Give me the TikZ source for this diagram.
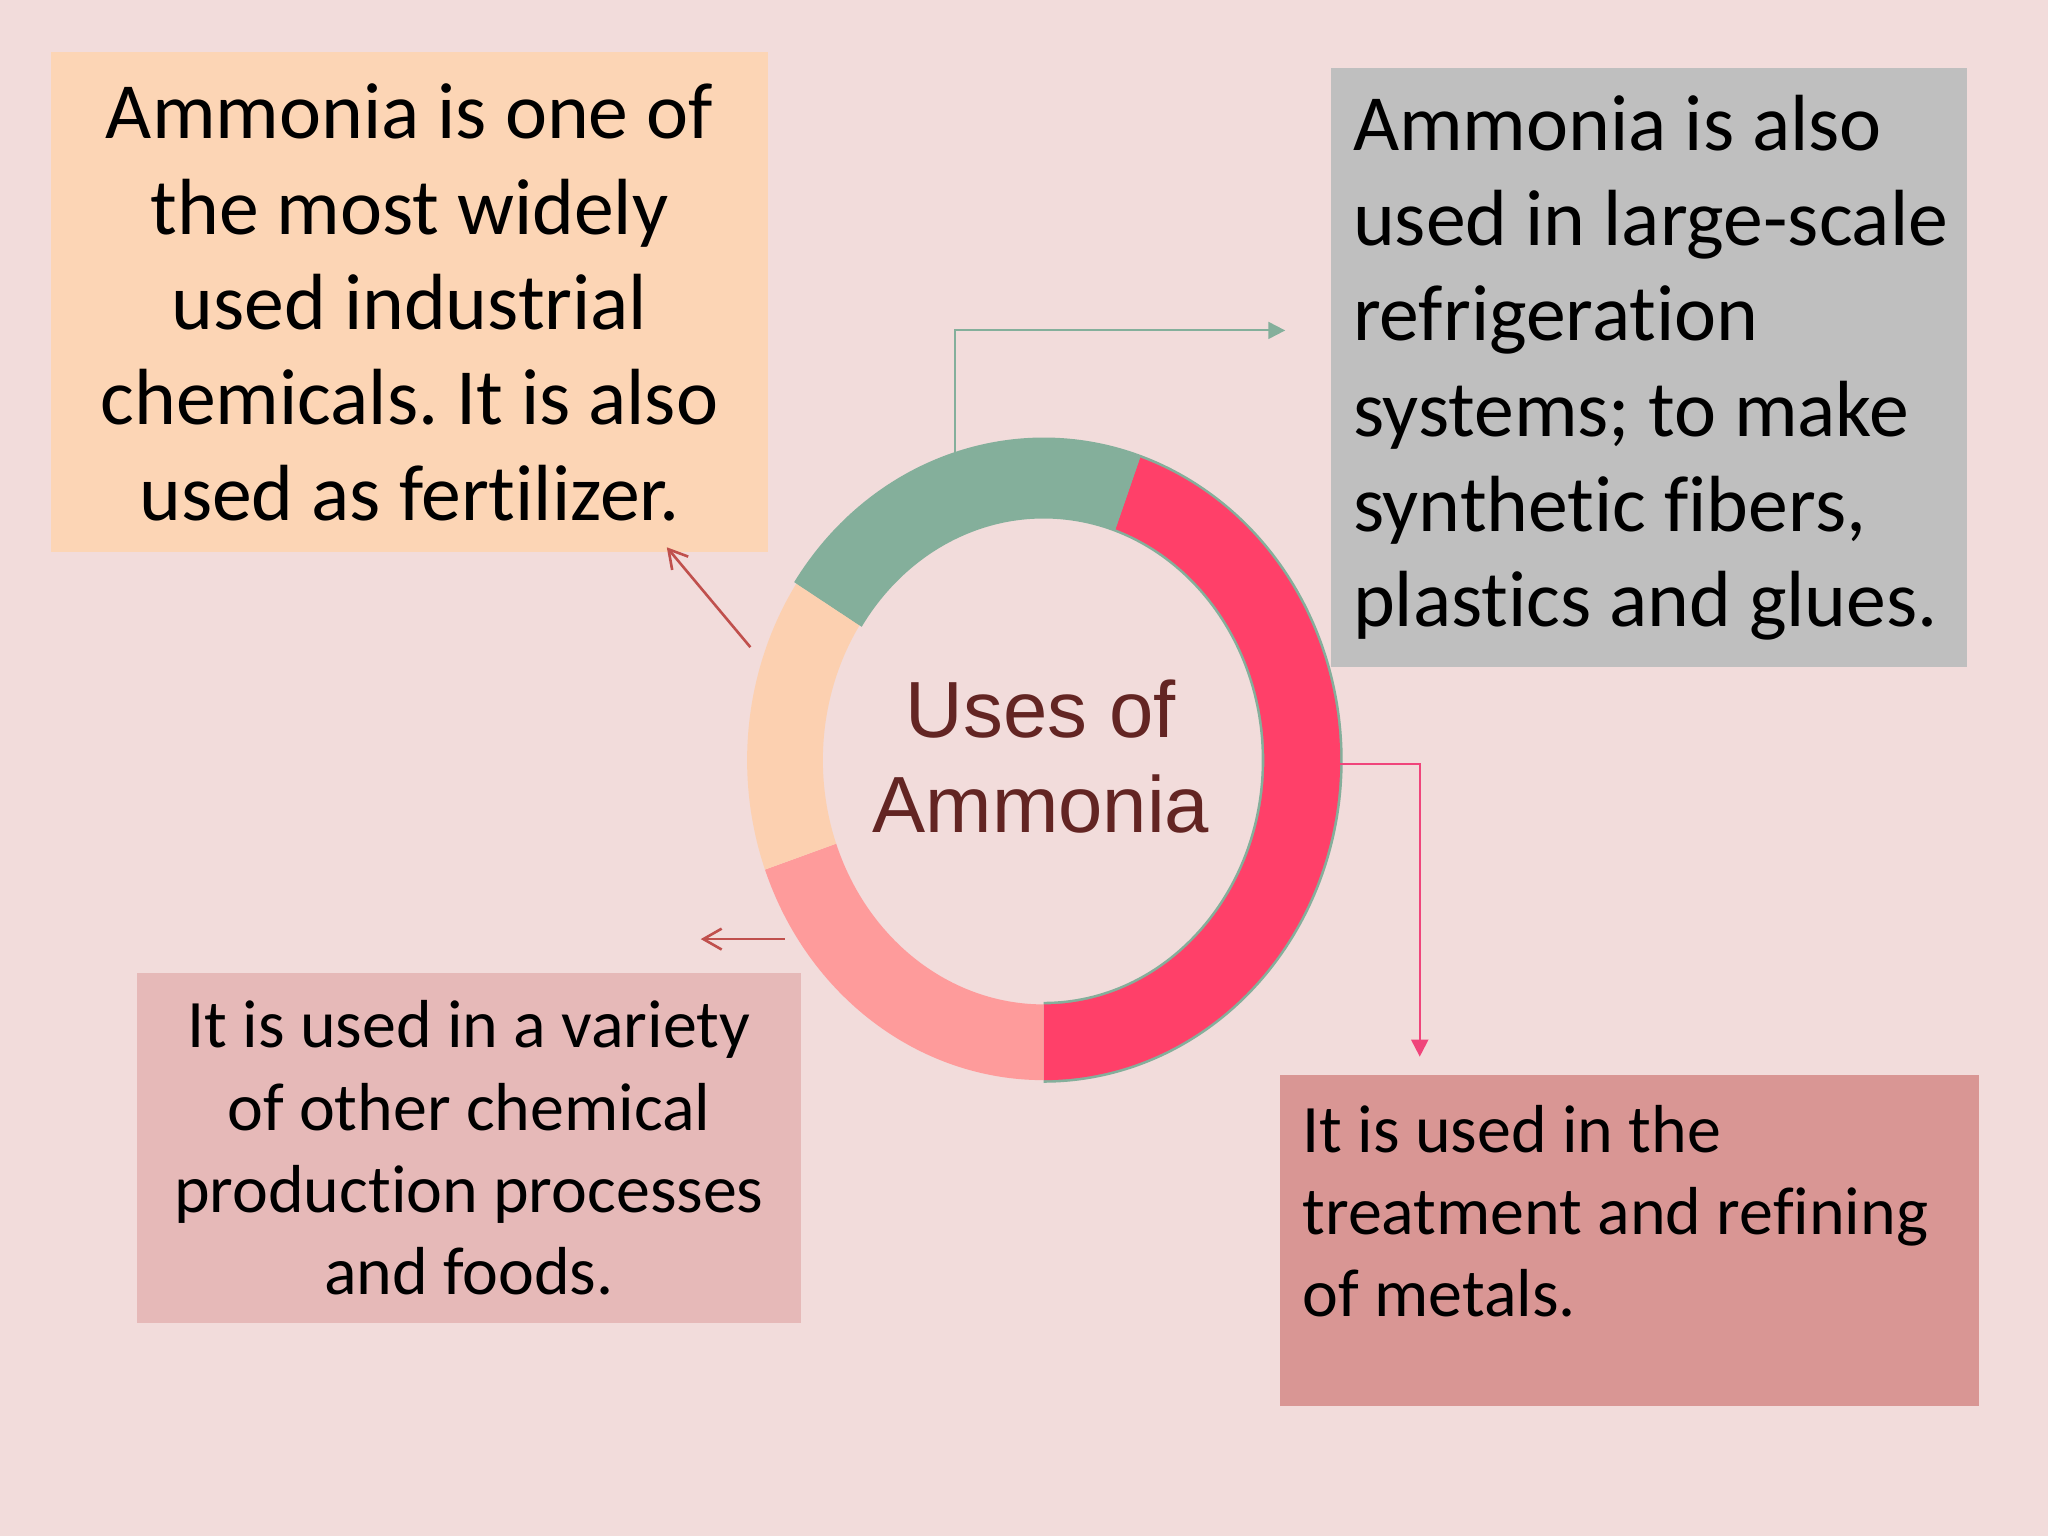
\documentclass[tikz,border=0pt]{standalone}
\usepackage{fontspec}
\setmainfont{Carlito}[Ligatures=NoCommon]
\newfontfamily\arialfont{Liberation Sans}
\usetikzlibrary{arrows.meta,calc}

\definecolor{bgpink}{HTML}{F2DCDB}
\definecolor{boxpeach}{HTML}{FCD5B5}
\definecolor{boxgrey}{HTML}{BFBFBF}
\definecolor{boxrose}{HTML}{E6B9B8}
\definecolor{boxred}{HTML}{D99694}
\definecolor{ringgreen}{HTML}{84AF9B}
\definecolor{ringred}{HTML}{FF4069}
\definecolor{ringsalmon}{HTML}{FE9B9B}
\definecolor{ringpeach}{HTML}{FCD0B0}
\definecolor{titlered}{HTML}{632523}
\definecolor{arrowpink}{HTML}{F0457B}
\definecolor{arrowred}{HTML}{C0504D}

\begin{document}
\begin{tikzpicture}[x=1pt,y=1pt,
	infobox/.style={fill=#1,inner sep=0pt,align=center},
	bigtext/.style={font=\fontsize{61}{73}\selectfont\frenchspacing},
	smalltext/.style={font=\fontsize{52}{63}\selectfont\frenchspacing},
	pointer/.style={draw=arrowred,line width=2pt,-{Straight Barb[length=14pt,width=16pt]}},
	elbow/.style={line width=1.6pt,-{Triangle[length=13pt,width=13pt]}}]
	
	\useasboundingbox (0,0) rectangle (1568,1176);
	\fill[bgpink] (0,0) rectangle (1568,1176);
	
	\node[infobox=boxpeach,bigtext,minimum width=549pt,minimum height=383pt] (tlbox) at (313.5,944.5) {Ammonia is one of\\the most widely\\used industrial\\chemicals. It is also\\used as fertilizer.};
	\node[infobox=boxgrey,bigtext,align=flush left,text width=453pt,inner xsep=17pt,minimum height=459pt] (trbox) at (1262.5,894.5) {Ammonia is also\\\mbox{used in large-scale}\\refrigeration\\systems; to make\\synthetic fibers,\\\mbox{plastics and glues.}};
	\node[infobox=boxrose,smalltext,minimum width=508pt,minimum height=268pt] (blbox) at (359,297) {It is used in a variety\\of other chemical\\production processes\\and foods.};
	\node[infobox=boxred,smalltext,align=flush left,anchor=north west,text width=501pt,inner xsep=17pt,inner ysep=23pt,text depth=171pt] (brbox) at (980,353) {It is used in the\\treatment and refining\\of metals.};
	
	\coordinate (ctr) at (799,594);
	\fill[ringgreen] ($(ctr)+(146.5:229 and 247)$) arc[start angle=146.5,end angle=-90,x radius=229,y radius=247] -- ($(ctr)+(-90:167 and 185)$) arc[start angle=-90,end angle=146.5,x radius=167,y radius=185] -- cycle;
	\foreach \a/\b/\c in {71/-90/ringred,270/200/ringsalmon,200/146.5/ringpeach,146.5/71/ringgreen}
		\fill[\c] ($(ctr)+(\a:227 and 245)$) arc[start angle=\a,end angle=\b,x radius=227,y radius=245] -- ($(ctr)+(\b:169 and 187)$) arc[start angle=\b,end angle=\a,x radius=169,y radius=187] -- cycle;
	
	\node[font=\arialfont\fontsize{61}{73}\selectfont,text=titlered,align=center] (title) at (797,597) {Uses of\\Ammonia};
	
	\coordinate (gstart) at ($(ctr)+(107.4:227 and 245)$);
	\coordinate (gend) at (984,923);
	\draw[elbow,ringgreen] (gstart) |- (gend);
	
	\coordinate (rstart) at ($(ctr)+(-0.7:227 and 245)$);
	\coordinate (rend) at (1087,367);
	\draw[elbow,arrowpink] (rstart) -| (rend);
	
	\coordinate (lstart) at (574.5,680.5);
	\coordinate (lend) at (510.5,757);
	\draw[pointer] (lstart) -- (lend);
	
	\coordinate (bstart) at (601,457);
	\coordinate (bend) at (536.5,457);
	\draw[pointer] (bstart) -- (bend);
\end{tikzpicture}
\end{document}
